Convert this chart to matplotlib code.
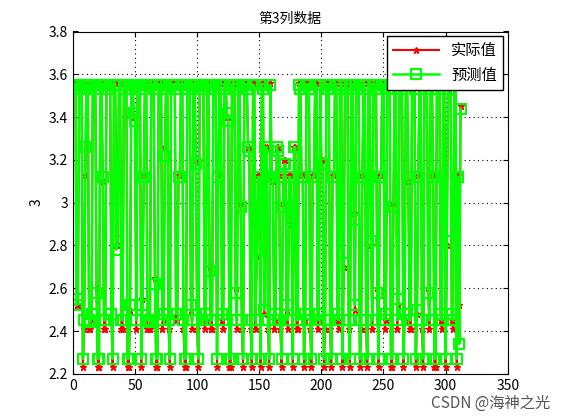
import matplotlib
matplotlib.use("Agg")
import matplotlib.pyplot as plt
import numpy as np

plt.rcParams['font.family'] = ['Noto Sans CJK SC', 'DejaVu Sans']

actual = [
    3.56, 3.56, 2.52, 2.52, 3.56, 3.56, 3.56, 2.23, 2.41, 3.13, 3.56, 3.56, 2.41, 2.41, 2.45, 3.56, 3.56, 3.56, 2.60, 2.23,
    2.23, 3.56, 3.56, 3.10, 2.41, 2.41, 3.56, 3.56, 3.56, 3.56, 2.45, 2.23, 3.56, 3.56, 2.80, 2.80, 3.56, 3.56, 2.41, 2.41,
    3.56, 3.56, 3.56, 2.23, 2.23, 2.50, 3.56, 3.56, 3.40, 3.40, 2.41, 3.56, 3.56, 3.56, 2.23, 2.55, 3.13, 3.56, 3.56, 2.41,
    2.41, 2.41, 3.56, 3.56, 3.56, 2.65, 2.23, 2.23, 3.56, 3.56, 3.56, 2.41, 2.45, 3.26, 3.56, 3.56, 2.41, 2.23, 3.56, 3.56,
    3.56, 3.56, 2.45, 2.45, 3.13, 3.13, 3.56, 3.56, 2.41, 2.23, 2.23, 3.56, 3.56, 3.56, 2.50, 2.41, 3.56, 3.56, 3.20, 2.41,
    2.23, 3.56, 3.56, 3.56, 3.56, 2.41, 2.45, 3.56, 3.56, 2.70, 2.41, 2.41, 3.56, 3.56, 3.56, 2.23, 3.13, 3.56, 3.56, 2.45,
    2.41, 3.56, 3.56, 3.40, 3.40, 2.23, 2.23, 3.56, 3.56, 3.56, 2.60, 2.41, 3.56, 3.56, 3.00, 2.41, 2.23, 3.56, 3.56, 3.56,
    3.26, 3.26, 2.41, 2.23, 3.56, 3.56, 2.41, 2.75, 3.13, 3.13, 2.23, 3.56, 3.56, 2.48, 3.26, 3.26, 2.41, 2.23, 3.56, 3.10,
    3.10, 2.41, 2.45, 3.26, 3.26, 3.13, 2.41, 2.23, 3.00, 3.20, 3.20, 2.50, 2.41, 3.13, 3.13, 2.90, 2.23, 3.26, 3.26, 2.41,
    2.41, 3.56, 3.56, 3.13, 3.13, 2.23, 2.45, 3.56, 3.56, 3.56, 2.41, 2.23, 3.13, 3.13, 3.56, 3.56, 2.41, 2.45, 3.56, 3.20,
    3.20, 2.23, 2.41, 3.56, 3.56, 3.56, 2.41, 2.23, 3.13, 3.13, 3.56, 3.56, 2.45, 2.41, 3.56, 3.56, 2.23, 2.70, 3.56, 3.56,
    3.56, 2.41, 2.23, 3.56, 3.56, 2.95, 2.50, 3.56, 3.56, 3.56, 2.23, 2.41, 3.13, 3.56, 3.56, 2.41, 2.23, 3.56, 3.56, 2.80,
    2.41, 3.56, 3.56, 3.56, 2.60, 2.23, 3.13, 3.13, 3.56, 3.56, 2.41, 2.45, 3.56, 3.56, 3.56, 2.23, 2.23, 3.00, 3.56, 3.56,
    2.41, 2.52, 3.56, 3.56, 3.56, 2.23, 2.45, 3.56, 3.56, 3.10, 2.41, 2.41, 3.56, 3.56, 3.56, 2.23, 2.48, 3.13, 3.56, 3.56,
    2.41, 2.23, 3.56, 3.56, 3.56, 2.60, 2.41, 3.56, 3.56, 3.13, 2.23, 2.23, 3.56, 3.56, 3.56, 2.45, 2.41, 3.56, 3.56, 2.23,
    2.80, 3.56, 3.56, 3.56, 2.45, 2.41, 3.56, 3.56, 2.23, 3.13, 2.52, 3.45,
]

# predicted values (312 samples)
predicted = [
    3.55, 3.55, 2.52, 2.55, 3.55, 3.53, 3.55, 2.27, 2.45, 3.26, 3.55, 3.55, 2.45, 2.44, 2.48, 3.55, 3.55, 3.53, 2.58, 2.27,
    2.27, 3.55, 3.55, 3.12, 2.45, 2.45, 3.55, 3.53, 3.55, 3.55, 2.48, 2.27, 3.55, 3.55, 2.78, 2.82, 3.55, 3.55, 2.45, 2.45,
    3.55, 3.53, 3.55, 2.27, 2.27, 2.52, 3.55, 3.55, 3.42, 3.38, 2.45, 3.55, 3.55, 3.53, 2.27, 2.52, 3.12, 3.55, 3.55, 2.45,
    2.45, 2.44, 3.55, 3.55, 3.53, 2.62, 2.27, 2.27, 3.55, 3.55, 3.55, 2.45, 2.48, 3.22, 3.55, 3.53, 2.45, 2.27, 3.55, 3.55,
    3.55, 3.53, 2.48, 2.48, 3.12, 3.12, 3.55, 3.55, 2.45, 2.27, 2.27, 3.55, 3.53, 3.55, 2.52, 2.45, 3.55, 3.55, 3.18, 2.45,
    2.27, 3.55, 3.55, 3.53, 3.55, 2.45, 2.48, 3.55, 3.55, 2.68, 2.45, 2.45, 3.55, 3.53, 3.55, 2.27, 3.12, 3.55, 3.55, 2.48,
    2.45, 3.55, 3.53, 3.42, 3.38, 2.27, 2.27, 3.55, 3.55, 3.53, 2.58, 2.45, 3.55, 3.55, 2.98, 2.45, 2.27, 3.55, 3.55, 3.53,
    3.26, 3.24, 2.45, 2.27, 3.55, 3.55, 2.45, 2.78, 3.12, 3.12, 2.27, 3.55, 3.53, 2.50, 3.26, 3.26, 2.45, 2.27, 3.55, 3.12,
    3.12, 2.45, 2.48, 3.26, 3.24, 3.12, 2.45, 2.27, 2.98, 3.18, 3.18, 2.52, 2.45, 3.12, 3.12, 2.92, 2.27, 3.26, 3.26, 2.45,
    2.45, 3.55, 3.53, 3.12, 3.12, 2.27, 2.48, 3.55, 3.55, 3.53, 2.45, 2.27, 3.12, 3.12, 3.55, 3.55, 2.45, 2.48, 3.55, 3.18,
    3.18, 2.27, 2.45, 3.55, 3.53, 3.55, 2.45, 2.27, 3.12, 3.12, 3.55, 3.55, 2.48, 2.45, 3.55, 3.53, 2.27, 2.72, 3.55, 3.55,
    3.53, 2.45, 2.27, 3.55, 3.55, 2.92, 2.52, 3.55, 3.53, 3.55, 2.27, 2.45, 3.12, 3.55, 3.55, 2.45, 2.27, 3.55, 3.53, 2.82,
    2.45, 3.55, 3.55, 3.53, 2.58, 2.27, 3.12, 3.12, 3.55, 3.55, 2.45, 2.48, 3.55, 3.53, 3.55, 2.27, 2.27, 2.98, 3.55, 3.55,
    2.45, 2.55, 3.55, 3.53, 3.55, 2.27, 2.48, 3.55, 3.55, 3.12, 2.45, 2.45, 3.55, 3.55, 3.53, 2.27, 2.50, 3.12, 3.55, 3.55,
    2.45, 2.27, 3.55, 3.53, 3.55, 2.58, 2.45, 3.55, 3.55, 3.12, 2.27, 2.27, 3.55, 3.53, 3.55, 2.48, 2.45, 3.55, 3.55, 2.27,
    2.82, 3.55, 3.53, 3.55, 2.48, 2.45, 3.55, 3.55, 2.27, 3.12, 2.34, 3.44,
]

x = np.arange(1, len(actual) + 1)

fig = plt.figure(figsize=(5.61, 4.20), dpi=100)
ax = fig.add_axes([0.13, 0.11, 0.775, 0.815])

ax.plot(x, actual, color="red", linewidth=1.5, marker="*", markersize=5, label="实际值")
ax.plot(x, predicted, color="#00ff00", linewidth=1.8, marker="s", markersize=6.5,
        markerfacecolor="none", markeredgewidth=1.5, label="预测值")

ax.set_xlim(0, 350)
ax.set_ylim(2.2, 3.8)
ax.set_xticks(range(0, 351, 50))
ax.set_yticks(np.arange(2.2, 3.81, 0.2))
ax.set_yticklabels(["2.2", "2.4", "2.6", "2.8", "3", "3.2", "3.4", "3.6", "3.8"])
ax.tick_params(direction="in", labelsize=10, top=True, right=True)
ax.grid(True, linestyle=(0, (1, 3)), color="black", linewidth=0.8)
ax.set_title("第3列数据", fontsize=10)
ax.set_ylabel("3", fontsize=10)
leg = ax.legend(loc="upper right", fontsize=11, fancybox=False, edgecolor="black",
                framealpha=1, borderaxespad=0.3, handlelength=3)
leg.get_frame().set_linewidth(1)

fig.text(0.98, 0.02, "CSDN @海神之光", ha="right", va="bottom", fontsize=11, color="#555555")

fig.savefig("out.png", dpi=100)
